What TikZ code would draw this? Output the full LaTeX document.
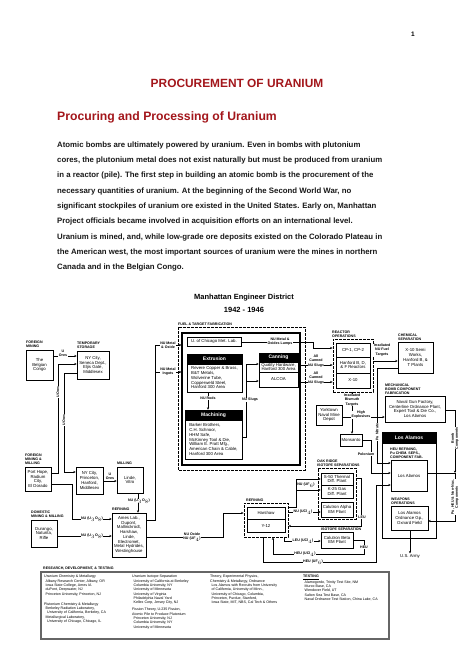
\documentclass[tikz,border=0pt]{standalone}
\usepackage{fontspec}
\setmainfont{Liberation Sans}
\usetikzlibrary{arrows.meta}
\definecolor{tred}{HTML}{A3161B}
\newcommand\tf{\fontsize{4.3}{4.75}\selectfont}
\newcommand\lf{\fontsize{3.6}{3.9}\selectfont\bfseries}
\newcommand\af{\fontsize{3.6}{4.1}\selectfont\bfseries}
\newcommand\hf{\fontsize{5}{5}\selectfont\bfseries}
\newcommand\rf{\fontsize{3.6}{4.3}\selectfont}
\newcommand\bodyf{\fontsize{7.8}{9}\selectfont\bfseries}
\newcommand\bx[7][]{\pgfmathsetmacro\bw{#5-#3}\pgfmathsetmacro\bh{#6-#4}%
  \node[box,#1,minimum width=\bw pt,minimum height=\bh pt] (#2) at ({(#3+#5)/2},{(#4+#6)/2}) {#7};}
\begin{document}
\begin{tikzpicture}[x=1pt,y=-1pt,
 box/.style={draw, line width=0.55pt, fill=white, inner sep=0pt, align=center, font=\tf},
 lbox/.style={align=left},
 hdr/.style={fill=black, text=white, font=\hf},
 arr/.style={-{Stealth[length=2.4pt,width=2.2pt]}, line width=0.6pt},
 ln/.style={line width=0.6pt},
 lab/.style={anchor=south west, inner sep=0pt, align=left, font=\lf},
 alab/.style={fill=white, inner sep=0.4pt, align=center, font=\af},
 rdash/.style={draw, dash pattern=on 2.6pt off 1.4pt, line width=0.9pt},
 body/.style={anchor=base west, inner sep=0pt, font=\bodyf, text=black!90}]
\fill[white] (0,0) rectangle (474,669);
\useasboundingbox (0,0) rectangle (474,669);
% ---------- page text
\node[font=\fontsize{6.5}{7}\selectfont\bfseries, inner sep=0] (pg) at (413,34) {1};
\node[font=\fontsize{11.9}{12}\selectfont\bfseries, text=tred, inner sep=0] (t1) at (237,83.5) {PROCUREMENT OF URANIUM};
\node[font=\fontsize{12.2}{14}\selectfont\bfseries, text=tred, anchor=base west, inner sep=0] (t2) at (57,120) {Procuring and Processing of Uranium};
\node[body] (b1) at (57,147.3) {Atomic bombs are ultimately powered by uranium. Even in bombs with plutonium};
\node[body] (b2) at (57,162.6) {cores, the plutonium metal does not exist naturally but must be produced from uranium};
\node[body] (b3) at (57,177.9) {in a reactor (pile). The first step in building an atomic bomb is the procurement of the};
\node[body] (b4) at (57,193.2) {necessary quantities of uranium. At the beginning of the Second World War, no};
\node[body] (b5) at (57,208.5) {significant stockpiles of uranium ore existed in the United States. Early on, Manhattan};
\node[body] (b6) at (57,223.8) {Project officials became involved in acquisition efforts on an international level.};
\node[body] (b7) at (57,239.1) {Uranium is mined, and, while low-grade ore deposits existed on the Colorado Plateau in};
\node[body] (b8) at (57,254.4) {the American west, the most important sources of uranium were the mines in northern};
\node[body] (b9) at (57,269.7) {Canada and in the Belgian Congo.};
% ---------- diagram title
\node[font=\fontsize{7.5}{9}\selectfont\bfseries, inner sep=0] (dt1) at (244,298) {Manhattan Engineer District};
\node[font=\fontsize{7.5}{9}\selectfont\bfseries, inner sep=0] (dt2) at (244,309.5) {1942 - 1946};
% ---------- left column
\node[lab] (l1) at (26,348) {FOREIGN\\MINING};
\bx{congo}{26}{350}{53}{380}{The\\Belgian\\Congo}
\node[lab] (l2) at (77,348.5) {TEMPORARY\\STORAGE};
\bx{stor}{77}{351}{109}{379}{NY City,\\Seneca Dept.,\\Eljis Gate,\\Middlesex}
\node[lab] (l3) at (25,465) {FOREIGN\\MINING \&\\MILLING};
\bx{ph}{25}{467}{51}{491}{Port Hope,\\Radium\\City,\\El Dorado}
\bx{nyc}{76}{467}{103}{494}{NY City,\\Princeton,\\Hanford,\\Middlesex}
\node[lab] (l4) at (117,465) {MILLING};
\bx{mill}{117}{467}{143}{493}{Linde,\\Vitro}
\node[lab] (l5) at (112,511) {REFINING};
\bx{ames}{112}{513}{146}{557}{Ames Lab.,\\Dupont,\\Mallinckrodt,\\Harshaw,\\Linde,\\Electromet,\\Metal Hydrides,\\Westinghouse}
\node[lab] (l6) at (31,518) {DOMESTIC\\MINING \& MILLING};
\bx{dur}{31}{520}{57}{547}{Durango,\\Naturita,\\Rifle}
% ---------- fuel fabrication
\draw[rdash] (178,327) rectangle (305,470);
\bx[line width=1.1pt, fill=none]{ff}{182}{333}{300}{465}{}
\node[lab] (l7) at (178,325.5) {FUEL \& TARGET FABRICATION};
\bx{chi}{187}{337}{241}{346}{U. of Chicago Met. Lab.}
\bx[hdr]{exth}{187}{354}{242}{364}{Extrusion}
\bx[lbox]{ext}{187}{364}{242}{392}{Revere Copper \& Brass,\\B\&T Metals,\\Wolverine Tube,\\Copperweld Steel,\\Hanford 300 Area}
\bx[hdr]{mach}{185}{410}{242}{420}{Machining}
\bx[lbox]{machb}{185}{420}{242}{459}{Barker Brothers,\\C.H. Schnoor,\\HHM Safe,\\McKinney Tool \& Die,\\William E. Pratt Mfg.,\\American Chain \& Cable,\\Hanford 300 Area}
\bx[hdr]{canh}{259}{353}{298}{362}{Canning}
\bx{can1}{259}{362}{298}{372}{Quality Hardware,\\Hanford 300 Area}
\bx{can2}{259}{372}{298}{387}{ALCOA}
% ---------- reactor / chem
\node[lab] (l8) at (332,338) {REACTOR\\OPERATIONS};
\bx[rdash, fill=none]{rx}{333}{339}{373}{392}{}
\bx{cp}{336}{343}{370}{357}{CP-1, CP-2}
\bx{hb}{336}{357}{370}{373}{Hanford B, D,\\\& F Reactors}
\bx{x10}{336}{373}{370}{388}{X-10}
\node[lab] (l9) at (398,340.5) {CHEMICAL\\SEPARATION};
\bx{chem}{398}{342}{433}{373}{X-10 Semi\\Works,\\Hanford B, \&\\T Plants}
\node[lab] (l10) at (385,394.5) {MECHANICAL\\BOMB COMPONENT\\FABRICATION};
\bx{mech}{385}{396}{445}{422}{Naval Gun Factory,\\Centerline Ordnance Plant,\\Expert Tool \& Die Co.,\\Los Alamos}
\bx{york}{316}{405}{342}{425}{Yorktown\\Naval Mine\\Depot}
\bx{mons}{340}{434}{362}{446}{Monsanto}
% ---------- Los Alamos
\bx{lao}{382}{432}{436}{538}{}
\bx[hdr]{lah}{382}{432}{436}{443}{Los Alamos}
\node[lab] (l11) at (390,458.5) {HEU REFINING,\\Pu CHEM. SEPS.,\\COMPONENT FAB.};
\bx{la}{391}{460}{427}{491}{Los Alamos}
\node[lab] (l12) at (391,504.5) {WEAPONS\\OPERATIONS};
\bx{weap}{391}{506}{428}{530}{Los Alamos\\Ordnance Gp.,\\Oxnard Field}
\node[font=\tf, inner sep=0.5pt] (army) at (410,556) {U.S. Army};
% ---------- Oak Ridge
\node[lab] (l13) at (317,466.5) {OAK RIDGE\\ISOTOPE SEPARATIONS};
\bx[rdash, fill=none]{orx}{318}{468}{356}{519}{}
\bx{s50}{321}{473}{353}{485}{S-50 Thermal\\Diff. Plant}
\bx{k25}{321}{485}{353}{498}{K-25 Gas\\Diff. Plant}
\bx{cala}{321}{502}{353}{517}{Calutron Alpha\\EM Plant}
\node[lab] (l14) at (321,530.5) {ISOTOPE SEPARATION};
\bx{calb}{321}{532}{353}{548}{Calutron Beta\\EM Plant}
% ---------- Y-12 refining
\node[lab] (l15) at (246,501.5) {REFINING};
\bx[rdash, fill=none]{yref}{244}{503}{288}{537}{}
\bx{harsh}{247}{507}{285}{519}{Harshaw}
\bx{y12}{247}{519}{285}{532}{Y-12}
% ---------- connectors
\draw[arr] (congo.east |- 0,356) -- (stor.west |- 0,356);
\draw[arr] (ph.east |- 0,473) -| (58,364) -- (stor.west |- 0,364);
\draw[arr] (stor.west |- 0,373) -| (64,472) -- (nyc.west |- 0,472);
\draw[arr] (nyc.east |- 0,481) -- (mill.west |- 0,481);
\draw[arr] (mill.south -| 138,0) -- (ames.north -| 138,0);
\draw[arr] (ph.east |- 0,484) -| (72,519) -- (ames.west |- 0,519);
\draw[arr] (dur.east |- 0,536) -- (ames.west |- 0,536);
\draw[ln] (ames.east |- 0,520) -| (155,345);
\draw[arr] (155,345) -- (ff.west |- 0,345);
\draw[arr] (155,372) -- (ff.west |- 0,372);
\draw[arr] (chi.east |- 0,342) -- (313,342) |- (rx.west |- 0,348);
\draw[arr] (can1.east |- 0,365) -- (rx.west |- 0,365);
\draw[arr] (can2.east |- 0,382) -- (rx.west |- 0,382);
\draw[arr] (machb.east |- 0,437) -| (246,364) -- (can1.west |- 0,364);
\draw[arr] (246,381) -- (can2.west |- 0,381);
\draw[arr] (ext.south -| 208,0) -- (mach.north -| 208,0);
\draw[arr] (rx.east |- 0,361) -- (chem.west |- 0,361);
\draw[arr] (rx.south -| 352,0) -- (mons.north -| 352,0);
\draw[arr] (york.east |- 0,417) -- (mech.west |- 0,417);
\draw[arr] (chem.west |- 0,368) -| (377,463) -- (la.west |- 0,463);
\draw[arr] (mons.east |- 0,440) -| (371,473) -- (la.west |- 0,473);
\draw[arr] (yref.south -| 263,0) -- (263,562) -| (376,485) -- (la.west |- 0,485);
\draw[arr] (orx.east |- 0,478) -| (361,526) -- (yref.east |- 0,526);
\draw[arr] (yref.east |- 0,512) -- (cala.west |- 0,512);
\draw[ln] (yref.east |- 0,507) -| (296,479);
\draw[arr] (296,479) -- (s50.west |- 0,479);
\draw[arr] (296,490) -- (k25.west |- 0,490);
\draw[arr] (yref.south -| 284,0) |- (calb.west |- 0,541);
\draw[arr] (calb.east |- 0,540) -| (364,554) -| (yref.south -| 273,0);
\draw[arr] (ames.east |- 0,537) -| (223,513) -- (yref.west |- 0,513);
\draw[ln] (la.east |- 0,473) -- (455,473);
\draw[arr] (mech.east |- 0,410) -| (455,473);
\draw[arr] (455,473) |- (weap.east |- 0,521);
\draw[arr] (weap.south -| 410,0) -- (army.north);
% ---------- connector labels
\node[alab] at (63,353) {U\\Ores};
\node[alab, rotate=90] at (58,392) {U Ores};
\node[alab, rotate=90] at (64,420) {U Ores};
\node[alab, anchor=south] at (110,480) {U\\Ores};
\node[alab] at (139,501) {NU (U$_3$O$_8$)};
\node[alab] at (92,519) {NU (U$_3$O$_8$)};
\node[alab] at (92,536) {NU (U$_3$O$_8$)};
\node[alab] at (168,345) {NU Metal\\\& Oxide};
\node[alab] at (168,372) {NU Metal\\Ingots};
\node[alab] at (280,342) {NU Metal \&\\Oxides Lumps};
\node[alab] at (316,361) {All\\Canned\\NU Slugs};
\node[alab] at (316,378) {All\\Canned\\NU Slugs};
\node[alab] at (250,400) {NU Slugs};
\node[alab] at (208,398) {NU Rods};
\node[alab] at (382,350) {Irradiated\\NU Fuel\\Targets};
\node[alab] at (352,400) {Irradiated\\Bismuth\\Targets};
\node[alab] at (361,415) {High\\Explosives};
\node[alab, rotate=90] at (377,432) {Pu Nitrate};
\node[alab] at (366,454) {Polonium};
\node[alab, rotate=90] at (455,438) {Bomb\\Components};
\node[alab, rotate=90] at (455,497) {Pu, HEU \& Non-Nuc.\\Components};
\node[alab] at (306,485) {NU (UF$_6$)};
\node[alab] at (303,512) {NU (UCl$_4$)};
\node[alab] at (362,517) {LEU};
\node[alab] at (303,541) {LEU (UCl$_4$)};
\node[alab] at (364,547) {HEU};
\node[alab] at (305,554) {HEU (UCl$_4$)};
\node[alab] at (313,562) {HEU (UF$_6$)};
\node[alab] at (192,537) {NU Oxide\\NU (UF$_4$)};
% ---------- R&D
\node[lab] (l16) at (43,570) {RESEARCH, DEVELOPMENT, \& TESTING};
\bx[draw=black!60, line width=1.1pt, fill=none]{rd}{41}{572}{389}{639}{}
\node[anchor=north west, inner sep=0, align=left, font=\rf] (rd1) at (44,575) {Uranium Chemistry \& Metallurgy\\\hspace*{1.5pt}Albany Research Center, Albany, OR\\\hspace*{1.5pt}Iowa State College, Ames IA\\\hspace*{1.5pt}duPont, Deepwater, NJ\\\hspace*{1.5pt}Princeton University, Princeton, NJ\\[6pt]Plutonium Chemistry \& Metallurgy\\\hspace*{1.5pt}Berkeley Radiation Laboratory,\\\hspace*{3pt}University of California, Berkeley, CA\\\hspace*{1.5pt}Metallurgical Laboratory,\\\hspace*{3pt}University of Chicago, Chicago, IL};
\node[anchor=north west, inner sep=0, align=left, font=\rf] (rd2) at (132,575) {Uranium Isotope Separation\\\hspace*{1.5pt}University of California at Berkeley\\\hspace*{1.5pt}Columbia University, NY\\\hspace*{1.5pt}University of Minnesota\\\hspace*{1.5pt}University of Virginia\\\hspace*{1.5pt}Philadelphia Naval Yard\\\hspace*{1.5pt}Kellex Corp, Jersey City, NJ\\[3pt]Fission Theory, U-235 Fission,\\Atomic Pile to Produce Plutonium\\\hspace*{1.5pt}Princeton University, NJ\\\hspace*{1.5pt}Columbia University, NY\\\hspace*{1.5pt}University of Minnesota};
\node[anchor=north west, inner sep=0, align=left, font=\rf] (rd3) at (210,575) {Theory, Experimental Physics,\\Chemistry \& Metallurgy, Ordnance\\\hspace*{1.5pt}Los Alamos with Recruits from University\\\hspace*{1.5pt}of California, University of Minn.,\\\hspace*{1.5pt}University of Chicago, Columbia,\\\hspace*{1.5pt}Princeton, Purdue, Stanford,\\\hspace*{1.5pt}Iowa State, MIT, NBS, Cal Tech \& Others};
\node[anchor=north west, inner sep=0, align=left, font=\rf] (rd4) at (303,575) {\underline{\textbf{TESTING}}\\\hspace*{1.5pt}Alamogordo, Trinity Test Site, NM\\\hspace*{1.5pt}Muroc Base, CA\\\hspace*{1.5pt}Wendover Field, UT\\\hspace*{1.5pt}Salton Sea Test Base, CA\\\hspace*{1.5pt}Naval Ordnance Test Station, China Lake, CA};
\end{tikzpicture}
\end{document}
